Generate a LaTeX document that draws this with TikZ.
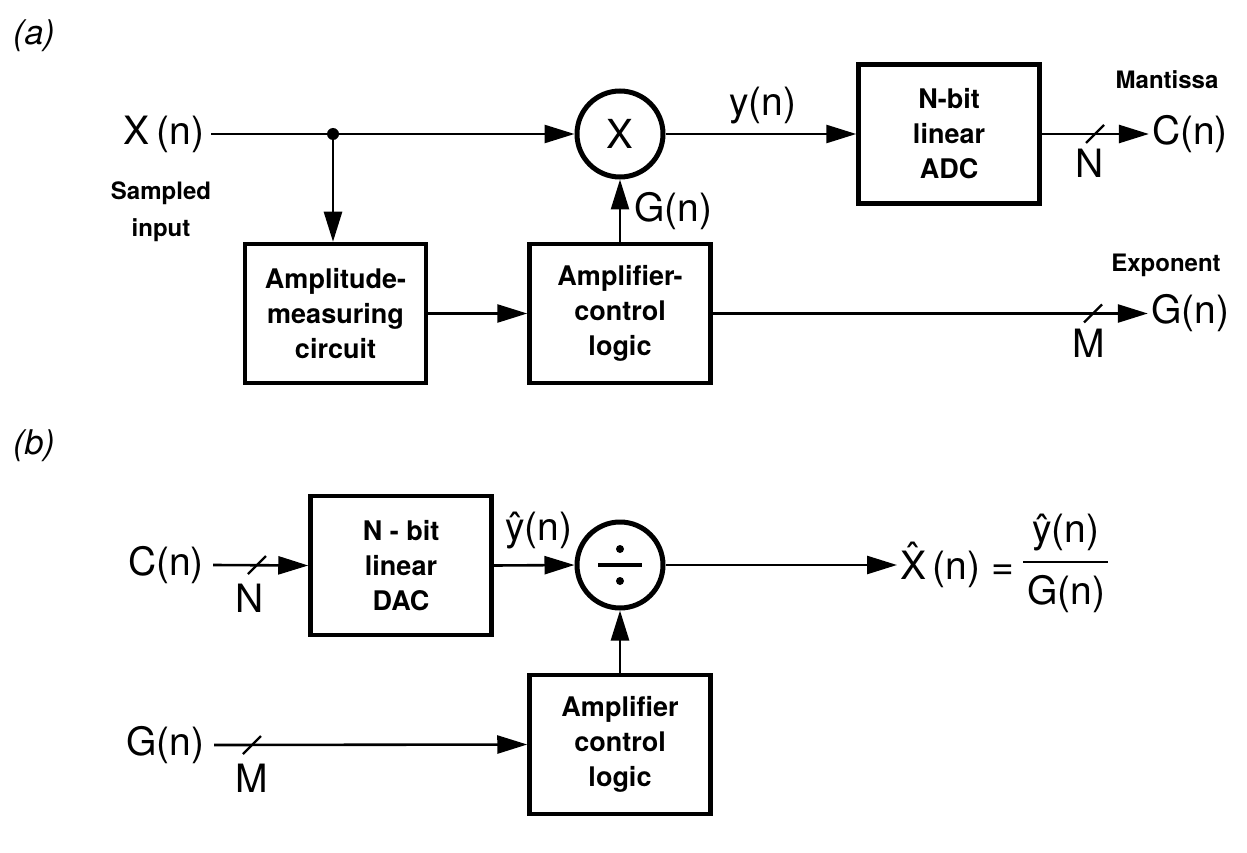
\documentclass[tikz,border=0pt]{standalone}
\usepackage{fontspec}
\usetikzlibrary{arrows.meta}
\newfontfamily\hv{TeX Gyre Heros}
\newcommand\figLab{\hv\fontsize{39}{42}\selectfont}
\newcommand\figBox{\hv\bfseries\fontsize{27}{35}\selectfont}
\newcommand\figSmall{\hv\bfseries\fontsize{24}{37}\selectfont}
\newcommand\figPanel{\hv\itshape\fontsize{34}{36}\selectfont}
\newcommand\hatX{\leavevmode\setbox0\hbox{X}\hbox to \wd0{\hss\raisebox{9pt}{ˆ}\hss}\kern-\wd0 X}
\begin{document}
\begin{tikzpicture}[x=1pt,y=-1pt,
  blk/.style={draw, line width=4.5pt, minimum width=181pt, minimum height=139pt, inner sep=0pt, align=center, font=\figBox},
  sumc/.style={circle, draw, line width=5pt, minimum size=86pt, inner sep=0pt},
  conn/.style={line width=2.6pt, -{Triangle[length=30pt,width=18pt]}},
  lbl/.style={inner sep=0pt, font=\figLab},
  small/.style={inner sep=0pt, font=\figSmall, align=center},
  panel/.style={inner sep=0pt, font=\figPanel},
  tick/.style={line width=2.4pt}
]
\useasboundingbox (0,0) rectangle (1247,853);

% ---------------- (a) ----------------
\node[panel] (pa) at (34,36) {(a)};
\node[lbl] (xn) at (164,134) {X\,(n)};
\node[small] (samp) at (161,212) {Sampled\\input};
\node[sumc] (mult) at (620,134) {\hv\fontsize{40}{40}\selectfont X};
\node[blk] (amp) at (335.5,313.5) {Amplitude-\\measuring\\circuit};
\node[blk] (ctl) at (620,313.5) {Amplifier-\\control\\logic};
\node[blk] (adc) at (949,134) {N-bit\\linear\\ADC};
\node[lbl] (yn) at (763,106) {y(n)};
\node[lbl] (gna) at (673,211) {G(n)};
\node[lbl] (cn) at (1190,134) {C(n)};
\node[lbl] (gn) at (1190,313.5) {G(n)};
\node[lbl] (nlab) at (1090,163) {N};
\node[lbl] (mlab) at (1089,343) {M};
\node[small] (mant) at (1167,80) {Mantissa};
\node[small] (expo) at (1166,265) {Exponent};
\coordinate (jn) at (333,134);
\coordinate (s1) at (1095,134);
\coordinate (s2) at (1093,313.5);

\draw[conn] ([xshift=7pt]xn.east) -- (mult.west);
\fill (jn) circle (6);
\draw[conn] (jn) -- (jn |- amp.north);
\draw[conn] (amp.east) -- (ctl.west);
\draw[conn] (ctl.north) -- (mult.south);
\draw[conn] (mult.east) -- (adc.west);
\draw[conn] (adc.east) -- ([xshift=-3pt]cn.west);
\draw[conn] (ctl.east) -- ([xshift=-3pt]gn.west);
\draw[tick] (s1) ++(-9,9) -- ++(18,-18);
\draw[tick] (s2) ++(-9,9) -- ++(18,-18);

% ---------------- (b) ----------------
\node[panel] (pb) at (34,446) {(b)};
\node[lbl] (cnb) at (166,565) {C(n)};
\node[lbl] (gnb) at (165,745) {G(n)};
\node[lbl] (nb) at (250,598) {N};
\node[lbl] (mb) at (252,778) {M};
\node[blk] (dac) at (401,565.5) {N - bit\\linear\\DAC};
\node[sumc] (div) at (620,565) {};
\node[blk] (ctlb) at (620,744.5) {Amplifier\\control\\logic};
\node[lbl] (yh) at (539,531) {ŷ(n)};
\node[lbl, anchor=west] (xh) at (900,565) {\hatX\,(n) =};
\node[lbl] (num) at (1066,533) {ŷ(n)};
\node[lbl] (den) at (1066,594) {G(n)};
\coordinate (barL) at (1023,562);
\coordinate (barR) at (1108,562);
\coordinate (s3) at (257,565);
\coordinate (s4) at (252,745);

\draw[conn] ([xshift=9pt]cnb.east) -- (dac.west);
\draw[conn] ([xshift=10pt]gnb.east) -- (ctlb.west);
\draw[conn] (dac.east) -- (div.west);
\draw[conn] (ctlb.north) -- (div.south);
\draw[conn] (div.east) -- ([xshift=-3pt]xh.west |- div.east);
\draw[tick] (s3) ++(-9,9) -- ++(18,-18);
\draw[tick] (s4) ++(-9,9) -- ++(18,-18);
\draw[line width=2.4pt] (barL) -- (barR);
% division sign
\draw[line width=4pt] ([xshift=-22pt]div.center) -- ([xshift=22pt]div.center);
\fill ([yshift=16pt]div.center) circle (4);
\fill ([yshift=-16pt]div.center) circle (4);
\end{tikzpicture}
\end{document}
